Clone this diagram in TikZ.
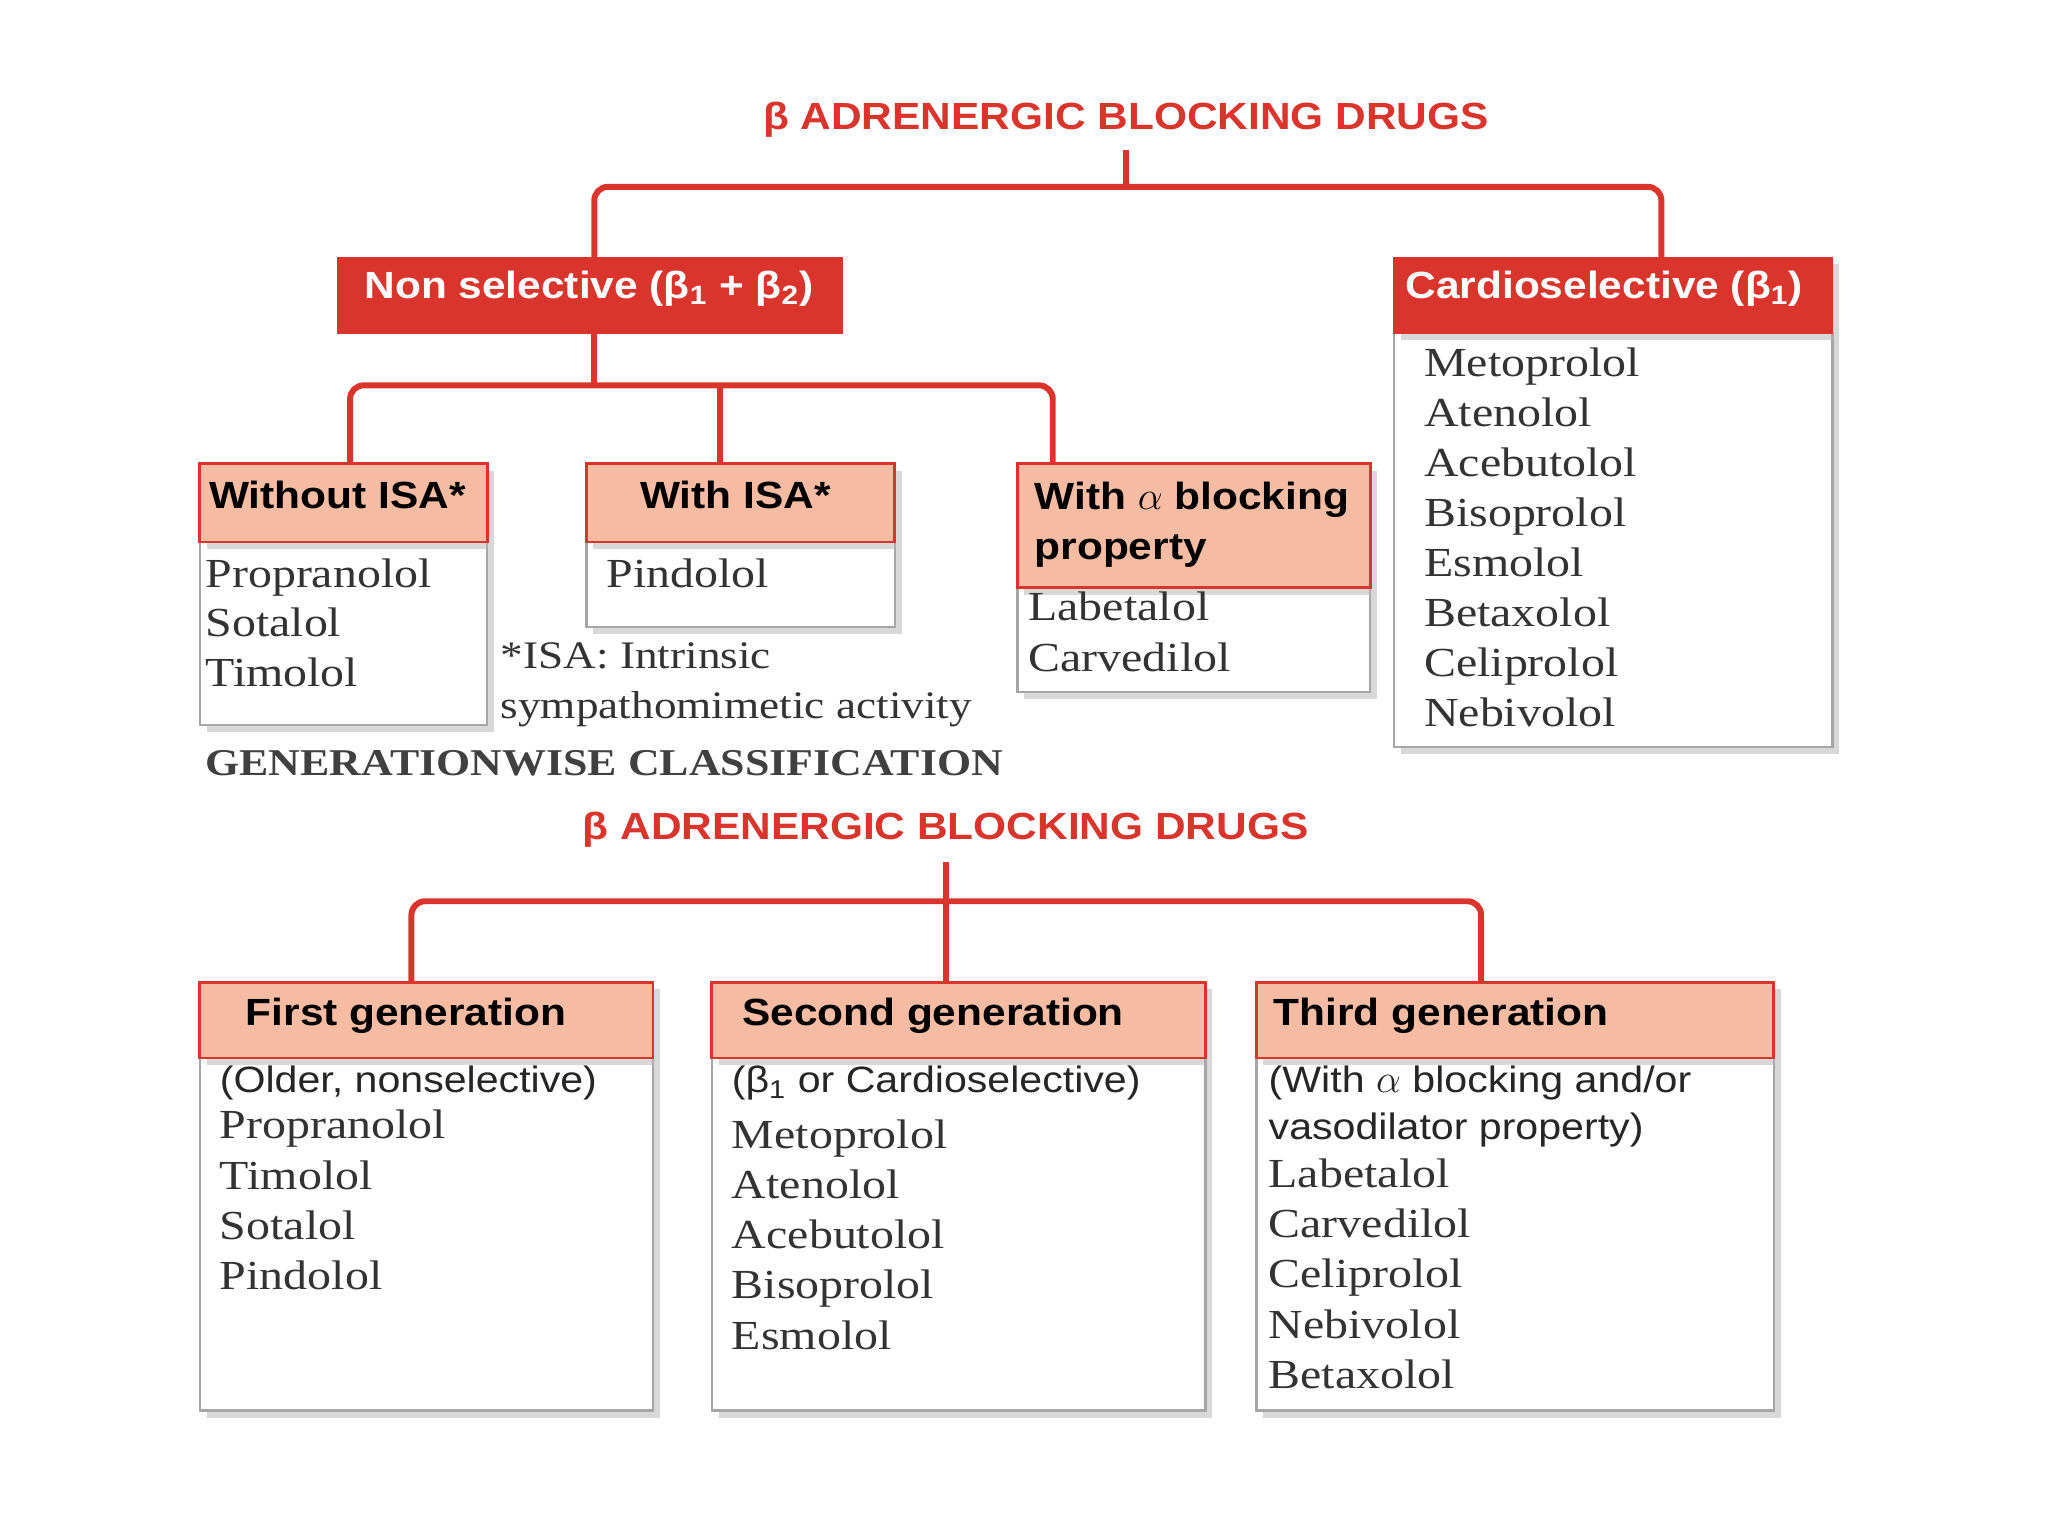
\documentclass[tikz,border=0pt]{standalone}
\usepackage{fontspec}
\setmainfont[FakeStretch=1.16]{Liberation Serif}
\setsansfont[FakeStretch=1.12]{Liberation Sans}
\usetikzlibrary{shadows}
\definecolor{rd}{HTML}{D9352C}
\definecolor{pch}{HTML}{F5BBA3}
\begin{document}
\begin{tikzpicture}[x=0.02cm,y=-0.02cm,
  every node/.style={text height=1.55ex,text depth=0.45ex},
  hf/.style={font=\sffamily\bfseries\fontsize{16.5}{20}\selectfont},
  ttl/.style={hf,text=rd,inner sep=0},
  conn/.style={draw=rd,line width=2.6pt,rounded corners=6pt},
  shd/.style={drop shadow={shadow xshift=3pt,shadow yshift=-3pt,fill=gray!60}},
  redhd/.style={fill=rd,draw=rd},
  pkhd/.style={fill=pch,draw=rd,line width=1.2pt,shd},
  lst/.style={fill=white,draw=gray!70,line width=1pt,shd},
  drug/.style={font=\fontsize{18}{20}\selectfont,text=black!80,anchor=west,inner sep=0},
  sub/.style={font=\sffamily\fontsize{16}{19}\selectfont,text=black!85,anchor=west,inner sep=0},
  note/.style={font=\fontsize{17}{20}\selectfont,text=black!80,anchor=west,inner sep=0}]
\useasboundingbox (0,0) rectangle (1568,1176);
% top tree
\node[ttl] (t1) at (862,95) {β ADRENERGIC BLOCKING DRUGS};
\coordinate (j1) at (862,143);
\draw[conn] (862,115) -- (j1);
\draw[conn] (455,198) -- (455,143) -- (1272,143) -- (1272,198);
% non selective
\path[redhd] (258,197) rectangle (645,255);
\node[hf,text=white] (ns) at (451,224) {Non selective (β\textsubscript{1} + β\textsubscript{2})};
% cardioselective
\path[lst] (1067,255) rectangle (1403,572);
\path[redhd,shd] (1067,197) rectangle (1403,255);
\node[hf,text=white,anchor=west] (cs) at (1070,224) {Cardioselective (β\textsubscript{1})};
\foreach \d [count=\i] in {Metoprolol,Atenolol,Acebutolol,Bisoprolol,Esmolol,Betaxolol,Celiprolol,Nebivolol}
  \node[drug] (c\i) at (1090,246+\i*38.2) {\d};
\draw[conn] (455,255) -- (455,295);
\draw[conn] (268,355) -- (268,295) -- (806,295) -- (806,355);
\draw[conn] (551,295) -- (551,355);
% without ISA
\path[lst] (153,415) rectangle (373,555);
\path[pkhd] (153,355) rectangle (373,415);
\node[hf,anchor=west] (w1) at (154,385) {Without ISA*};
\node[drug] (p1) at (157,445) {Propranolol};
\node[drug] (p2) at (157,483) {Sotalol};
\node[drug] (p3) at (157,521) {Timolol};
% with ISA
\path[lst] (449,415) rectangle (685,480);
\path[pkhd] (449,355) rectangle (685,415);
\node[hf] (w2) at (563,385) {With ISA*};
\node[drug] (pi) at (464,445) {Pindolol};
% with alpha
\path[lst] (779,450) rectangle (1049,530);
\path[pkhd] (779,355) rectangle (1049,450);
\node[hf,anchor=west] (w3a) at (786,386) {With $\alpha$ blocking};
\node[hf,anchor=west] (w3b) at (786,424) {property};
\node[drug] (l1) at (787,471) {Labetalol};
\node[drug] (l2) at (787,510) {Carvedilol};
% note
\node[note] (n1) at (383,507) {*ISA: Intrinsic};
\node[note] (n2) at (383,546) {sympathomimetic activity};
\node[font=\bfseries\fontsize{16.5}{19}\selectfont,text=black!75,anchor=west,inner sep=0] (gw) at (157,589) {GENERATIONWISE CLASSIFICATION};
% bottom tree
\node[ttl] (t2) at (724,638) {β ADRENERGIC BLOCKING DRUGS};
\draw[conn] (724,660) -- (724,752);
\draw[conn] (315,752) -- (315,690) -- (1134,690) -- (1134,752);
% generations
\foreach \xa/\xb in {153/500,545/923,962/1358}{
  \path[lst] (\xa,810) rectangle (\xb,1080);
  \path[pkhd] (\xa,752) rectangle (\xb,810);
}
\node[hf,anchor=west] (h1) at (182,781) {First generation};
\node[hf,anchor=west] (h2) at (562,781) {Second generation};
\node[hf,anchor=west] (h3) at (969,781) {Third generation};
\node[sub] (s1) at (168,832) {(Older, nonselective)};
\foreach \d [count=\i] in {Propranolol,Timolol,Sotalol,Pindolol}
  \node[drug] (f\i) at (168,829+\i*38.5) {\d};
\node[sub] (s2) at (560,832) {(β\textsubscript{1} or Cardioselective)};
\foreach \d [count=\i] in {Metoprolol,Atenolol,Acebutolol,Bisoprolol,Esmolol}
  \node[drug] (e\i) at (560,836+\i*38.5) {\d};
\node[sub] (s3a) at (971,832) {(With $\alpha$ blocking and/or};
\node[sub] (s3b) at (971,868) {vasodilator property)};
\foreach \d [count=\i] in {Labetalol,Carvedilol,Celiprolol,Nebivolol,Betaxolol}
  \node[drug] (r\i) at (971,866+\i*38.5) {\d};
\end{tikzpicture}
\end{document}
